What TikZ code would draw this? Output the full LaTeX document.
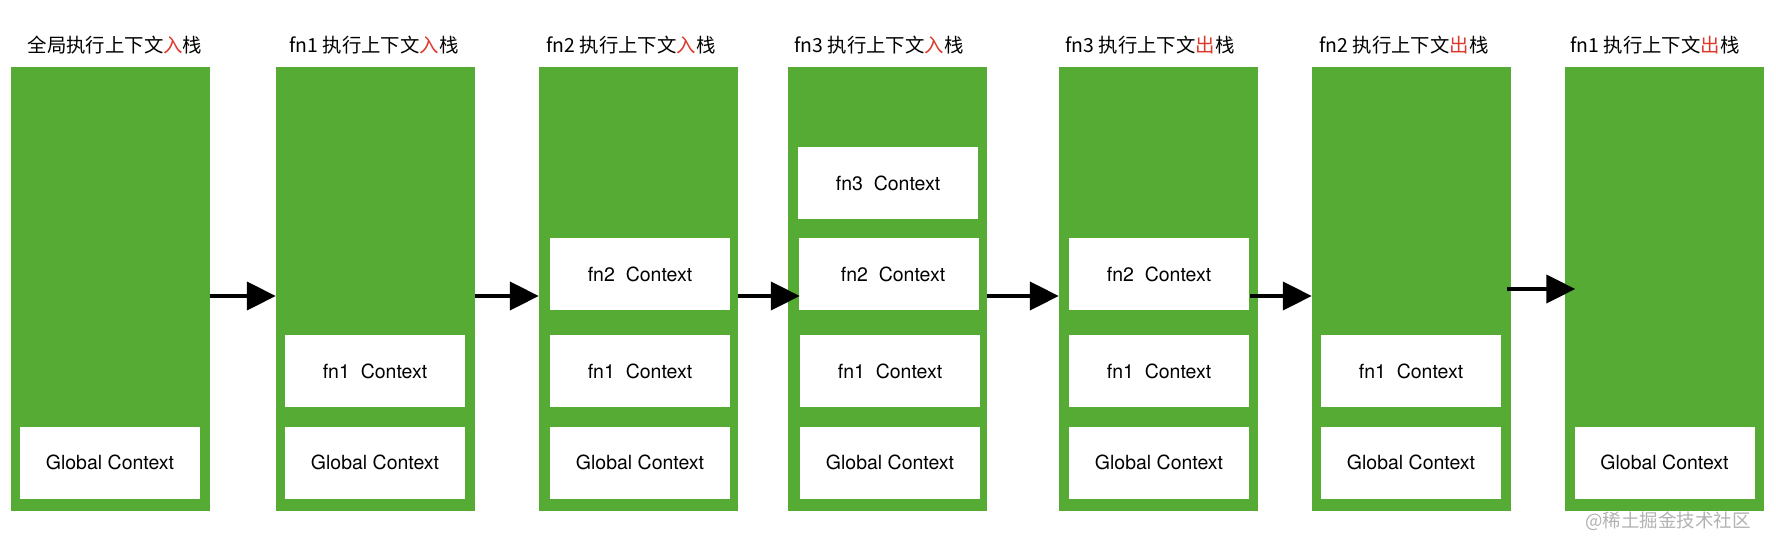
\documentclass[tikz,border=0pt]{standalone}
\usepackage{fontspec}
\setmainfont{TeX Gyre Heros}
\newfontfamily\cjk{Noto Sans CJK SC}
\usepackage{xcolor}
\usetikzlibrary{arrows.meta}
\usetikzlibrary{math, positioning}
\definecolor{stackgreen}{RGB}{86,171,53}
\definecolor{myred}{RGB}{221,57,42}
\definecolor{markgray}{RGB}{178,178,178}

\tikzset{
 stack/.style={fill=stackgreen, minimum width=199pt, minimum height=444pt, inner sep=0pt},
 ctx/.style={fill=white, minimum width=180pt, minimum height=72pt, inner sep=0pt, font=\fontsize{19.5}{22}\selectfont},
 title/.style={font=\cjk\fontsize{19.4}{22}\selectfont, inner sep=0pt},
 wmark/.style={font=\cjk\fontsize{18.5}{21}\selectfont, text=markgray, inner sep=0pt},
 push/.style={-{Triangle[length=29pt,width=28pt]}, line width=4pt},
}

\begin{document}
\begin{tikzpicture}[x=1pt,y=-1pt]
\tikzmath{
\ymid=289; % middle of the stacks
\yg=462.5;
\yfa=371;
\yfb=274;
\yfc=183;
}
\useasboundingbox (0,0) rectangle (1776,548);

 %stacks
 \node[stack] (s1) at (110,\ymid) {};
 \node[stack] (s2) at (375.5,\ymid) {};
 \node[stack] (s3) at (638.5,\ymid) {};
 \node[stack] (s4) at (887.5,\ymid) {};
 \node[stack] (s5) at (1158.5,\ymid) {};
 \node[stack] (s6) at (1411.5,\ymid) {};
 \node[stack] (s7) at (1664,\ymid) {};

 %titles
 \node[title] (t1) at (115,45) {全局执行上下文\textcolor{myred}{入}栈};
 \node[title] (t2) at (374,45) {fn1 执行上下文\textcolor{myred}{入}栈};
 \node[title] (t3) at (631,45) {fn2 执行上下文\textcolor{myred}{入}栈};
 \node[title] (t4) at (879,45) {fn3 执行上下文\textcolor{myred}{入}栈};
 \node[title] (t5) at (1150,45) {fn3 执行上下文\textcolor{myred}{出}栈};
 \node[title] (t6) at (1404,45) {fn2 执行上下文\textcolor{myred}{出}栈};
 \node[title] (t7) at (1655,45) {fn1 执行上下文\textcolor{myred}{出}栈};

 %global
 \node[ctx] (g1) at (110,\yg) {Global Context};
 \node[ctx] (g2) at (375,\yg) {Global Context};
 \node[ctx] (g3) at (640,\yg) {Global Context};
 \node[ctx] (g4) at (890,\yg) {Global Context};
 \node[ctx] (g5) at (1159,\yg) {Global Context};
 \node[ctx] (g6) at (1411,\yg) {Global Context};
 \node[ctx] (g7) at (1664.5,\yg) {Global Context};

 %fn1
 \node[ctx] (a2) at (375,\yfa) {fn1~~Context};
 \node[ctx] (a3) at (640,\yfa) {fn1~~Context};
 \node[ctx] (a4) at (890,\yfa) {fn1~~Context};
 \node[ctx] (a5) at (1159,\yfa) {fn1~~Context};
 \node[ctx] (a6) at (1411,\yfa) {fn1~~Context};

 %fn2
 \node[ctx] (b3) at (640,\yfb) {fn2~~Context};
 \node[ctx] (b4) at (889,\yfb) {\hspace{8pt}fn2~~Context};
 \node[ctx] (b5) at (1159,\yfb) {fn2~~Context};

 %fn3
 \node[ctx] (c4) at (888,\yfc) {fn3~~Context};

 %arrows
 \draw[push] ([yshift=-7pt]s1.east) -- ([yshift=-7pt]s2.west);
 \draw[push] ([yshift=-7pt]s2.east) -- ([yshift=-7pt]s3.west);
 \draw[push] ([yshift=-7pt]s3.east) -- ([xshift=12pt,yshift=-7pt]s4.west);
 \draw[push] ([yshift=-7pt]s4.east) -- ([yshift=-7pt]s5.west);
 \draw[push] ([xshift=-8pt,yshift=-7pt]s5.east) -- ([yshift=-7pt]s6.west);
 \draw[push] ([xshift=-4pt]s6.east) -- ([xshift=11pt]s7.west);

 \node[wmark] (wm) at (1668,521) {@稀土掘金技术社区};
\end{tikzpicture}
\end{document}
